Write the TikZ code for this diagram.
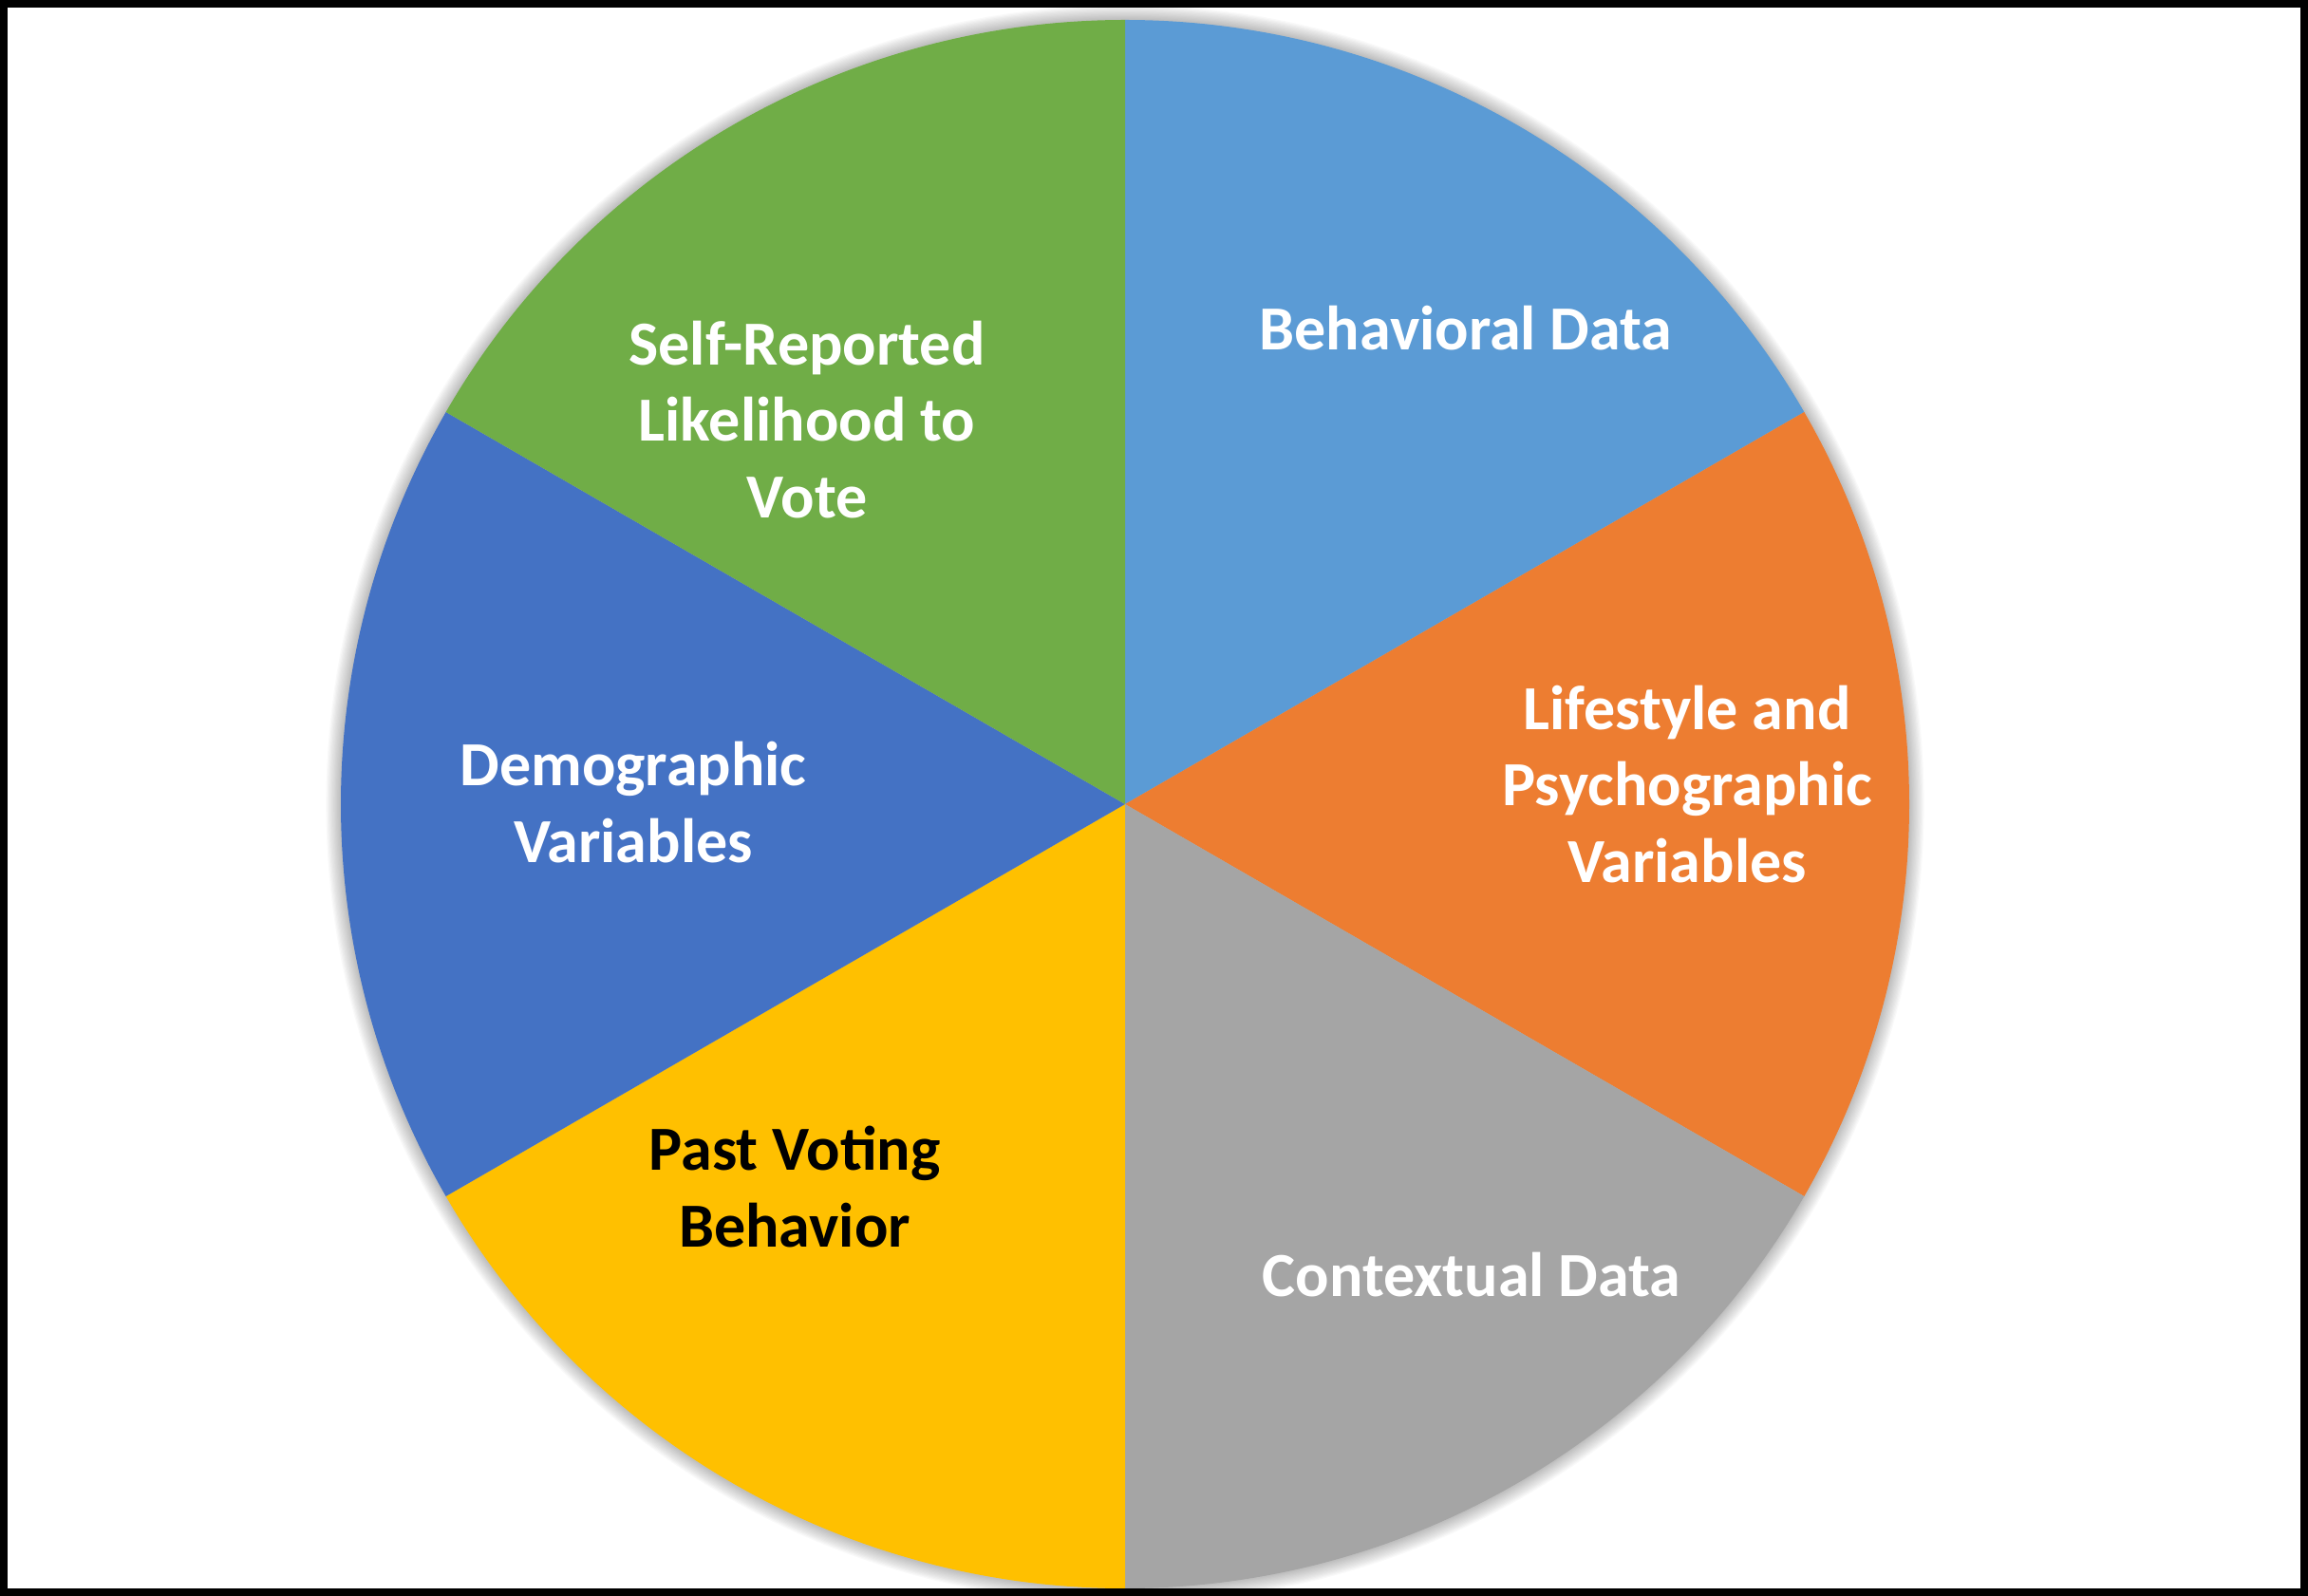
\documentclass[tikz,border=0pt]{standalone}
\usepackage{fontspec}
\setmainfont{Carlito}
\usepackage{xcolor}
\definecolor{behavblue}{HTML}{5B9BD5}
\definecolor{lifeorange}{HTML}{ED7D31}
\definecolor{contextgray}{HTML}{A5A5A5}
\definecolor{pastgold}{HTML}{FFC000}
\definecolor{demoblue}{HTML}{4472C4}
\definecolor{selfgreen}{HTML}{70AD47}
\usepackage{tikz}
\usetikzlibrary{positioning}

\begin{document}
\begin{tikzpicture}[
    lbl/.style={
        align=center, text=white,
        font=\fontsize{18.8}{22.8}\selectfont\bfseries,
        inner sep=0pt
    },
    slice/.style={draw=none}
]
\useasboundingbox (0,0) rectangle (24.31,-16.81);
\coordinate (O) at (11.85,-8.47);
\def\rad{8.26}

\foreach \k in {1,...,12}
    \fill[black, opacity=0.022] (O) circle ({\rad+0.013*\k});

\fill[slice, behavblue]   (O) -- ++(90:\rad)  arc (90:30:\rad)   -- cycle;
\fill[slice, lifeorange]  (O) -- ++(30:\rad)  arc (30:-30:\rad)  -- cycle;
\fill[slice, contextgray] (O) -- ++(-30:\rad) arc (-30:-90:\rad) -- cycle;
\fill[slice, pastgold]    (O) -- ++(-90:\rad) arc (-90:-150:\rad) -- cycle;
\fill[slice, demoblue]    (O) -- ++(210:\rad) arc (210:150:\rad) -- cycle;
\fill[slice, selfgreen]   (O) -- ++(150:\rad) arc (150:90:\rad)  -- cycle;

\node[lbl] (behav)   at (15.44,-3.46)  {Behavioral Data};
\node[lbl] (life)    at (17.77,-8.26)  {Lifestyle and\\Psychographic\\Variables};
\node[lbl] (context) at (15.50,-13.43) {Contextual Data};
\node[lbl, text=black] (past) at (8.37,-12.50) {Past Voting\\Behavior};
\node[lbl] (demo)    at (6.67,-8.45)   {Demographic\\Variables};
\node[lbl] (self)    at (8.50,-4.42)   {Self-Reported\\Likelihood to\\Vote};

\draw[line width=2.1pt] (0.04,-0.04) rectangle (24.27,-16.77);
\end{tikzpicture}
\end{document}
